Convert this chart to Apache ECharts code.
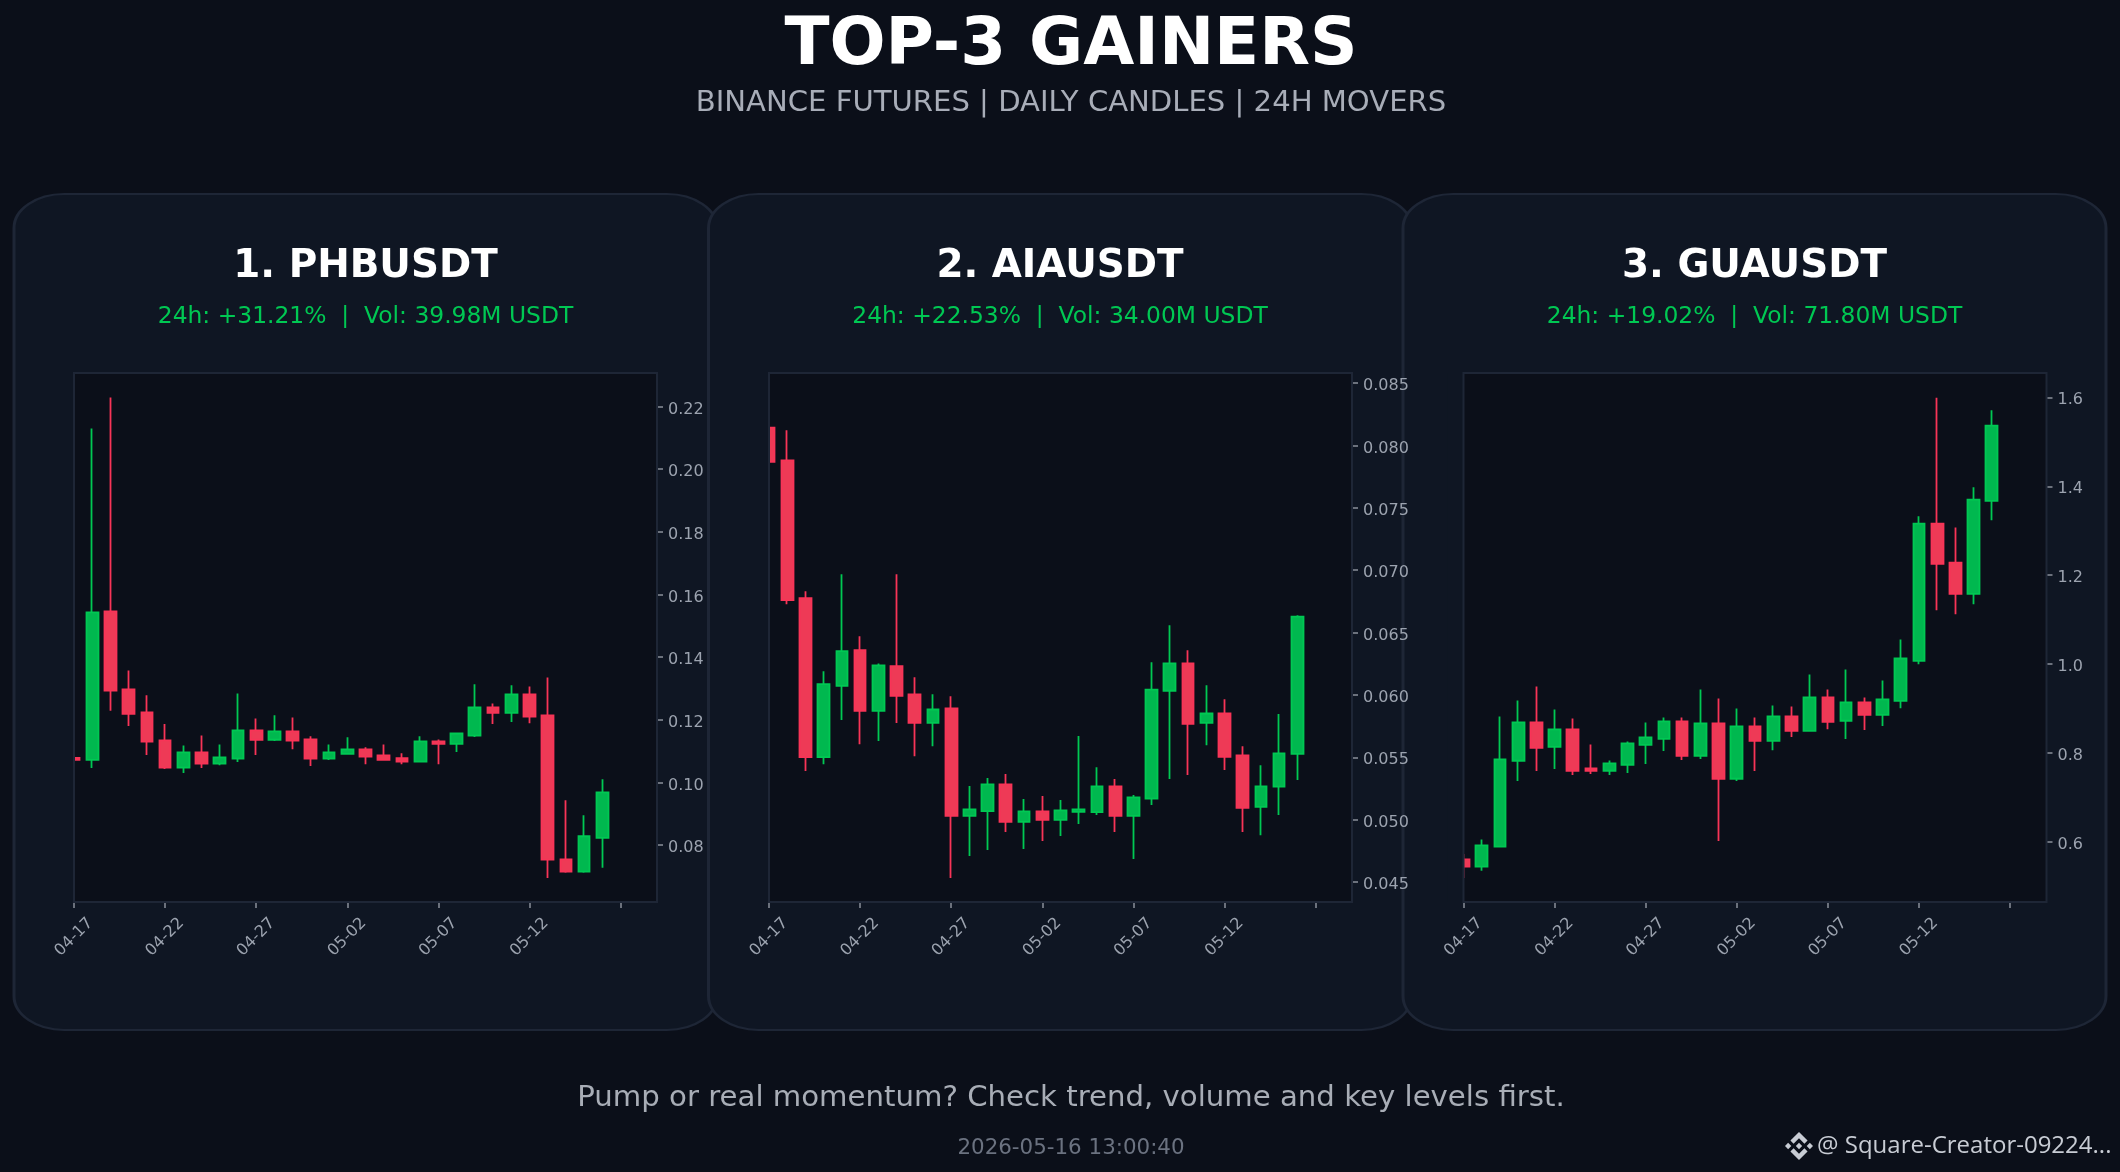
<!DOCTYPE html>
<html><head><meta charset="utf-8">
<script src="https://cdn.jsdelivr.net/npm/echarts@6/dist/echarts.min.js"></script>
<style>html,body{margin:0;padding:0;background:#0b0f19}#c{width:2120px;height:1172px}</style>
</head><body><div id="c"></div>
<script>
const dates = ['04-17','04-18','04-19','04-20','04-21','04-22','04-23','04-24','04-25','04-26','04-27','04-28','04-29','04-30','05-01','05-02','05-03','05-04','05-05','05-06','05-07','05-08','05-09','05-10','05-11','05-12','05-13','05-14','05-15','05-16','','',''];

const phbOpen  = [.1078,.1072,.1546,.1297,.1223,.1134,.1047,.1096,.1060,.1076,.1166,.1136,.1163,.1137,.1076,.1091,.1105,.1086,.1077,.1066,.1131,.1123,.1149,.1239,.1222,.1281,.1214,.0754,.0715,.0823];
const phbClose = [.1072,.1543,.1293,.1219,.1130,.1047,.1096,.1060,.1080,.1166,.1136,.1163,.1133,.1076,.1096,.1105,.1082,.1072,.1066,.1131,.1123,.1156,.1239,.1222,.1281,.1210,.0753,.0715,.0828,.0968];
const phbLow   = [.1043,.1046,.1229,.1180,.1087,.1043,.1030,.1046,.1055,.1065,.1087,.1132,.1106,.1052,.1071,.1091,.1058,.1072,.1058,.1066,.1058,.1097,.1145,.1186,.1193,.1189,.0695,.0711,.0711,.0727];
const phbHigh  = [.1289,.2130,.2229,.1357,.1278,.1186,.1118,.1150,.1121,.1284,.1204,.1214,.1207,.1147,.1121,.1144,.1112,.1121,.1093,.1147,.1137,.1156,.1313,.1252,.1310,.1306,.1335,.0943,.0895,.1010];
const phbTicks = [.08,.10,.12,.14,.16,.18,.20,.22];

const aiaOpen  = [.08142,.07880,.06775,.05501,.06073,.06358,.05872,.0623,.06003,.05776,.05891,.05031,.05069,.05282,.04983,.05066,.04999,.05063,.05061,.05266,.05031,.05168,.06033,.06252,.05776,.05851,.05515,.05103,.05264,.05528];
const aiaClose = [.07867,.06759,.05501,.06086,.0635,.05872,.06236,.05993,.05776,.05883,.05031,.05082,.05282,.04983,.05066,.04999,.05074,.05082,.05266,.05031,.05178,.06043,.06252,.05768,.05851,.05504,.05095,.05266,.05531,.06628];
const aiaLow   = [.07053,.06727,.05389,.05445,.05798,.05605,.0563,.05774,.05509,.05589,.04532,.04708,.04756,.04901,.04764,.04828,.04868,.04965,.05037,.04901,.04684,.05117,.05325,.05357,.05597,.05397,.04901,.04876,.05037,.05317];
const aiaHigh  = [.08388,.08121,.06831,.0619,.06967,.06471,.06252,.06967,.06142,.06006,.0599,.05269,.05333,.05365,.05165,.05189,.05157,.0567,.05421,.05325,.05197,.06262,.06559,.06358,.06078,.05966,.05589,.05437,.05846,.06639];
const aiaTicks = [.045,.050,.055,.060,.065,.070,.075,.080,.085];

const guaOpen  = [.5610,.5446,.5895,.7828,.8689,.8142,.8532,.7655,.7603,.7738,.8187,.8322,.8712,.7940,.8667,.7423,.8599,.8277,.8824,.8502,.9251,.8727,.9139,.8861,.9176,1.0075,1.3161,1.2285,1.1581,1.3670];
const guaClose = [.5446,.5925,.7858,.8689,.8120,.8532,.7603,.7603,.7768,.8217,.8352,.8712,.7940,.8667,.7423,.8599,.8277,.8824,.8502,.9251,.8704,.9139,.8861,.9206,1.0127,1.3161,1.2255,1.1581,1.3700,1.5363];
const guaLow   = [.5191,.5356,.5895,.7371,.7596,.7640,.7506,.7528,.7506,.7551,.7753,.8045,.7843,.7865,.6022,.7371,.7596,.8067,.8360,.8502,.8539,.8315,.8517,.8607,.9011,1.0000,1.1213,1.1124,1.1348,1.3236];
const guaHigh  = [.5730,.6060,.8824,.9184,.9498,.8981,.8779,.8195,.7835,.8262,.8689,.8802,.8802,.9431,.9228,.9004,.8802,.9071,.9049,.9768,.9431,.9880,.9251,.9633,1.0554,1.3326,1.5993,1.3071,1.3978,1.5708];
const guaTicks = [.6,.8,1.0,1.2,1.4,1.6];

const panelTitles = ['1. PHBUSDT','2. AIAUSDT','3. GUAUSDT'];
const panelStats  = ['24h: +31.21%  |  Vol: 39.98M USDT','24h: +22.53%  |  Vol: 34.00M USDT','24h: +19.02%  |  Vol: 71.80M USDT'];
const panels = [
  {o:phbOpen,c:phbClose,l:phbLow,h:phbHigh,ticks:phbTicks,min:.0618,max:.2307,dec:2,cardX:14,gridX:74},
  {o:aiaOpen,c:aiaClose,l:aiaLow,h:aiaHigh,ticks:aiaTicks,min:.0434,max:.0858,dec:3,cardX:708.5,gridX:769},
  {o:guaOpen,c:guaClose,l:guaLow,h:guaHigh,ticks:guaTicks,min:.4652,max:1.6547,dec:1,cardX:1403,gridX:1463.5}
];

const FONT='DejaVu Sans';
const GW=583, GT=373, GH=529, CW=703, CT=194, CH=836, RX=50, RY=34;
const spine='#1e2636', card='#0f1623', plot='#0b0f19', tickC='#8b909a', labelC='#9ca3af';
const UP='#00b84f', UPB='#00c853', DN='#ee3a56', DNB='#f83457';

const grids=[],xAxes=[],yAxes=[],series=[],graphic=[];
const txt=(t,cx,cy,size,color,weight,font)=>({type:'text',z:20,style:{text:t,x:cx,y:cy,align:'center',verticalAlign:'middle',fontFamily:font||FONT,fontSize:size,fontWeight:weight||'normal',fill:color}});

graphic.push(txt('TOP-3 GAINERS',1071,47,66,'#ffffff','bold'));
graphic.push(txt('BINANCE FUTURES | DAILY CANDLES | 24H MOVERS',1071,103.5,29.1,'#a8adb8'));

panels.forEach((p,i)=>{
  graphic.push({type:'rect',z:-10,x:p.cardX,y:CT,scaleY:RY/RX,shape:{x:0,y:0,width:CW,height:CH*RX/RY,r:RX},style:{fill:card,stroke:spine,lineWidth:3,strokeNoScale:true}});
  graphic.push(txt(panelTitles[i],p.cardX+351.5,267,38.9,'#ffffff','bold'));
  graphic.push(txt(panelStats[i],p.cardX+351.5,317,23.4,'#00c853'));
  graphic.push({type:'rect',z:14,silent:true,shape:{x:p.gridX-16,y:GT,width:16,height:GH},style:{fill:card}});
  graphic.push({type:'rect',z:15,silent:true,shape:{x:p.gridX,y:GT,width:GW,height:GH},style:{fill:'none',stroke:spine,lineWidth:2}});
  grids.push({left:p.gridX,top:GT,width:GW,height:GH,show:true,backgroundColor:plot,borderWidth:0,containLabel:false});
  xAxes.push({type:'category',gridIndex:i,data:dates,boundaryGap:false,
    axisLine:{show:false},splitLine:{show:false},
    axisTick:{show:true,interval:4,length:6,lineStyle:{color:tickC,width:1.5}},
    axisLabel:{show:true,interval:4,rotate:45,align:'center',verticalAlign:'middle',margin:35,color:labelC,fontSize:16,fontFamily:FONT}});
  yAxes.push({type:'value',gridIndex:i,position:'right',min:p.min,max:p.max,scale:true,
    axisLine:{show:false},splitLine:{show:false},
    axisTick:{show:true,length:6,customValues:p.ticks,lineStyle:{color:tickC,width:1.5}},
    axisLabel:{show:true,customValues:p.ticks,margin:11,color:labelC,fontSize:16,fontFamily:FONT,
      rich:{v:{color:labelC,fontSize:16,fontFamily:FONT,padding:[6,0,0,0]}},
      formatter:v=>'{v|'+Number(v).toFixed(p.dec)+'}'}});
  series.push({type:'candlestick',xAxisIndex:i,yAxisIndex:i,barWidth:12.2,clip:true,
    itemStyle:{color:UP,color0:DN,borderColor:UPB,borderColor0:DNB,borderWidth:1.8},
    data:p.o.map((v,k)=>[v,p.c[k],p.l[k],p.h[k]])});
});

graphic.push(txt('Pump or real momentum? Check trend, volume and key levels first.',1071,1098,29.2,'#a8adb6'));
graphic.push(txt('2026-05-16 13:00:40',1071,1148,21.4,'#6b7280'));

const logoShapes=[
  [[9.8,13.4],[16,7.2],[22.2,13.4],[25.8,9.8],[16,0],[6.2,9.8]],
  [[9.8,18.6],[16,24.8],[22.2,18.6],[25.8,22.2],[16,32],[6.2,22.2]],
  [[0,16],[3.6,12.4],[7.2,16],[3.6,19.6]],
  [[24.8,16],[28.4,12.4],[32,16],[28.4,19.6]],
  [[19.6,16],[16,19.6],[12.4,16],[16,12.4]]
];
graphic.push({type:'group',x:1785,y:1132,scaleX:28/32,scaleY:28/32,z:20,children:logoShapes.map(pts=>({type:'polygon',z:20,shape:{points:pts},style:{fill:'#c8ccd4'}}))});
graphic.push({type:'text',z:20,style:{text:'@ Square-Creator-09224...',x:1817,y:1146,align:'left',verticalAlign:'middle',fontFamily:'Open Sans',fontSize:24,fill:'#c8ccd4'}});

const chart=echarts.init(document.getElementById('c'),null,{renderer:'canvas',width:2120,height:1172});
chart.setOption({animation:false,backgroundColor:'#0b0f19',grid:grids,xAxis:xAxes,yAxis:yAxes,series,graphic:{elements:graphic},tooltip:{show:false}});
</script></body></html>
